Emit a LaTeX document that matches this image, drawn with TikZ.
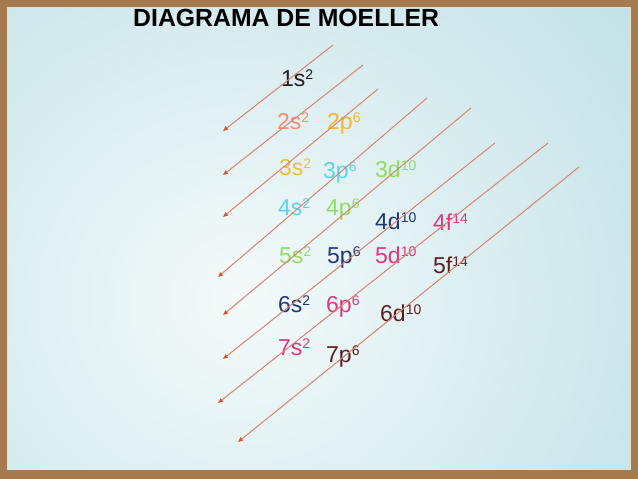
\documentclass[tikz,border=0pt]{standalone}
\usepackage{fontspec}
\setmainfont{Liberation Sans}
\usetikzlibrary{arrows.meta}
\definecolor{frame}{HTML}{A57A4E}
\definecolor{cream}{HTML}{E8E0C8}
\definecolor{bgblue}{HTML}{BEDFE6}
\definecolor{bglight}{HTML}{F4FAFA}
\definecolor{arrline}{HTML}{D88470}
\definecolor{arrtip}{HTML}{E0502C}
\definecolor{csalmon}{HTML}{F0906E}
\definecolor{corange}{HTML}{F4B830}
\definecolor{cyellow}{HTML}{F2C228}
\definecolor{ccyan}{HTML}{5AD6E6}
\definecolor{cgreen}{HTML}{90E060}
\definecolor{cnavy}{HTML}{233676}
\definecolor{cmag}{HTML}{E0367E}
\definecolor{cbrown}{HTML}{5C1E1E}
\definecolor{cblack}{HTML}{1E1E1E}
\newcommand\ex[1]{\raisebox{7pt}{\fontsize{14}{14}\selectfont #1}}
\tikzset{
  orb/.style={anchor=base west,inner sep=0pt,font=\fontsize{23}{23}\selectfont},
  arr/.style={draw=arrline,line width=1pt,-{Triangle[length=5pt,width=4pt,color=arrtip,fill=arrtip]}}
}
\begin{document}
\begin{tikzpicture}[x=1pt,y=-1pt]
\useasboundingbox (0,0) rectangle (638,479);
\fill[frame] (0,0) rectangle (638,479);
\fill[cream] (7,7) rectangle (631,470);
\fill[bgblue] (8,8) rectangle (630,469);
\begin{scope}
\clip (8,8) rectangle (630,469);
\shade[inner color=bglight,outer color=bgblue] (240,300) ellipse (540 and 520);
\end{scope}
\node[anchor=base west,inner sep=0pt,font=\bfseries\fontsize{24.8}{24.8}\selectfont] (title) at (133,27) {DIAGRAMA DE MOELLER};
% orbitals
\node[orb,text=cblack] (s1) at (281,86) {1s\ex{2}};
\node[orb,text=csalmon] (s2) at (277,129) {2s\ex{2}};
\node[orb,text=corange] (p2) at (327,129) {2p\ex{6}};
\node[orb,text=cyellow] (s3) at (279,175) {3s\ex{2}};
\node[orb,text=ccyan] (p3) at (323,178) {3p\ex{6}};
\node[orb,text=cgreen] (d3) at (375,177) {3d\ex{10}};
\node[orb,text=ccyan] (s4) at (278,215) {4s\ex{2}};
\node[orb,text=cgreen] (p4) at (326,215) {4p\ex{6}};
\node[orb,text=cnavy] (d4) at (375,229) {4d\ex{10}};
\node[orb,text=cmag] (f4) at (433,230) {4f\ex{14}};
\node[orb,text=cgreen] (s5) at (279,263) {5s\ex{2}};
\node[orb,text=cnavy] (p5) at (327,263) {5p\ex{6}};
\node[orb,text=cmag] (d5) at (375,263) {5d\ex{10}};
\node[orb,text=cbrown] (f5) at (433,273) {5f\ex{14}};
\node[orb,text=cnavy] (s6) at (278,312) {6s\ex{2}};
\node[orb,text=cmag] (p6) at (326,312) {6p\ex{6}};
\node[orb,text=cbrown] (d6) at (380,321) {6d\ex{10}};
\node[orb,text=cmag] (s7) at (278,355) {7s\ex{2}};
\node[orb,text=cbrown] (p7) at (326,362) {7p\ex{6}};
% diagonal arrows
\coordinate (a1) at (333,45);  \coordinate (b1) at (223,131);
\coordinate (a2) at (363,65);  \coordinate (b2) at (223,175);
\coordinate (a3) at (378,89);  \coordinate (b3) at (223,217);
\coordinate (a4) at (427,98);  \coordinate (b4) at (218,277);
\coordinate (a5) at (471,108); \coordinate (b5) at (223,315);
\coordinate (a6) at (495,143); \coordinate (b6) at (223,359);
\coordinate (a7) at (548,143); \coordinate (b7) at (218,403);
\coordinate (a8) at (579,167); \coordinate (b8) at (238,442);
\foreach \i in {1,...,8} {\draw[arr] (a\i) -- (b\i);}
\end{tikzpicture}
\end{document}
